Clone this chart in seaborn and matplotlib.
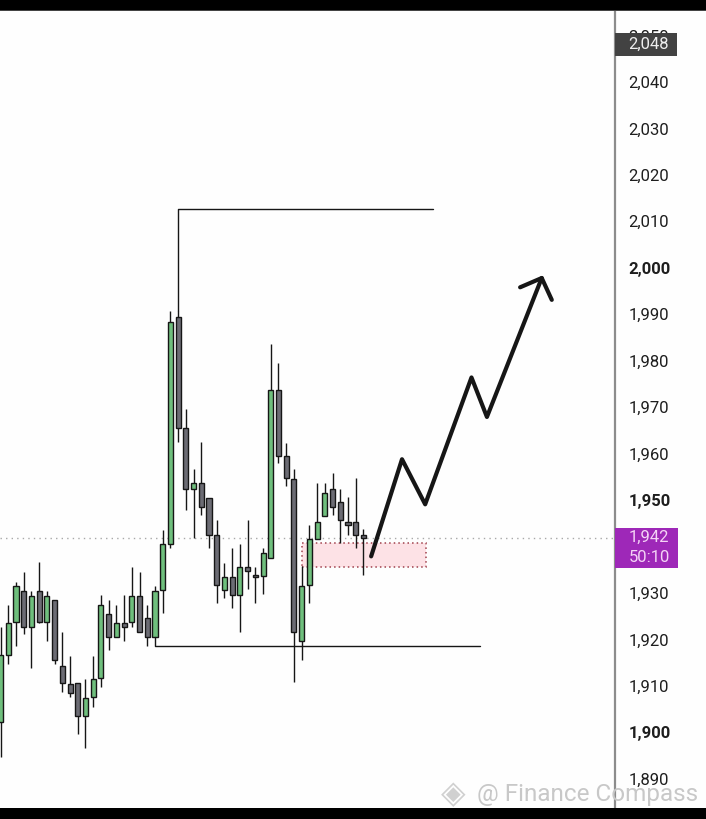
import numpy as np
import pandas as pd
import matplotlib
matplotlib.use("Agg")
import matplotlib.pyplot as plt
import matplotlib.transforms as mtransforms
from matplotlib.patches import Rectangle
import seaborn as sns

sns.set_theme(style="white")
plt.rcParams['font.family'] = ['Roboto', 'DejaVu Sans']

# candle data (bar index, OHLC)
bar_index = list(range(-1, 47))
opens = [1902.2, 1916.6, 1923.7, 1930.4, 1922.7, 1930.4, 1923.7, 1928.5, 1914.3, 1910.4,
         1910.6, 1903.5, 1907.6, 1911.7, 1925.5, 1920.5, 1923.5, 1923.7, 1929.3, 1924.6,
         1920.5, 1930.6, 1940.5, 1989.5, 1965.6, 1952.5, 1953.6, 1950.4, 1942.4, 1930.6,
         1933.4, 1929.5, 1935.6, 1933.6, 1933.6, 1937.5, 1973.6, 1959.6, 1954.5, 1919.6,
         1931.7, 1941.6, 1946.5, 1952.5, 1949.5, 1945.4, 1945.4, 1942.4]
closes = [1916.6, 1923.5, 1931.5, 1922.7, 1929.3, 1923.7, 1929.3, 1915.6, 1910.6, 1908.5,
          1903.5, 1907.4, 1911.5, 1927.4, 1920.5, 1923.5, 1922.7, 1929.3, 1921.6, 1920.5,
          1930.4, 1940.5, 1988.4, 1965.6, 1952.5, 1953.6, 1948.5, 1942.6, 1931.7, 1933.4,
          1929.5, 1935.6, 1934.7, 1933.4, 1938.6, 1973.6, 1959.6, 1954.7, 1921.6, 1931.5,
          1941.6, 1945.4, 1951.5, 1948.5, 1945.7, 1944.6, 1942.6, 1941.8]
highs = [1922.7, 1927.4, 1932.3, 1934.5, 1930.4, 1936.6, 1930.4, 1928.5, 1921.6, 1916.4,
         1910.6, 1911.5, 1916.4, 1929.5, 1928.5, 1927.4, 1929.5, 1935.6, 1934.5, 1927.4,
         1931.5, 1943.5, 1990.6, 1990.6, 1969.7, 1956.6, 1962.6, 1950.4, 1945.7, 1936.4,
         1939.6, 1940.5, 1945.7, 1935.6, 1939.6, 1983.5, 1979.6, 1962.4, 1956.6, 1935.8,
         1944.6, 1953.6, 1953.6, 1955.8, 1952.5, 1950.6, 1954.7, 1943.7]
lows = [1894.7, 1914.7, 1918.6, 1921.2, 1913.8, 1923.5, 1919.6, 1914.7, 1908.7, 1907.6,
        1899.7, 1896.7, 1905.5, 1909.8, 1917.7, 1920.5, 1919.6, 1922.7, 1921.6, 1918.6,
        1920.5, 1925.7, 1939.6, 1962.6, 1947.8, 1941.8, 1946.7, 1939.6, 1927.8, 1928.9,
        1926.7, 1921.6, 1930.8, 1927.8, 1929.7, 1937.5, 1957.9, 1953.0, 1910.8, 1915.6,
        1927.8, 1941.6, 1946.5, 1946.7, 1940.7, 1942.4, 1939.6, 1933.8]

# price axis (1,940 sits under the last-price tag, so it is left out)
tick_prices = [2050, 2040, 2030, 2020, 2010, 2000, 1990, 1980, 1970, 1960,
               1950, 1930, 1920, 1910, 1900, 1890]
tick_labels = ["2,050", "2,040", "2,030", "2,020", "2,010", "2,000", "1,990", "1,980",
               "1,970", "1,960", "1,950", "1,930", "1,920", "1,910", "1,900", "1,890"]
bold_labels = ["2,000", "1,950", "1,900"]
last_price = 1941.8
last_label = "1,942"
countdown = "50:10"
high_marker = 2048
high_label = "2,048"

# drawings
resist_bars = [22, 22, 55]
resist_prices = [1990.6, 2012.7, 2012.7]
support_bars = [19, 19, 61.1]
support_prices = [1920.5, 1918.6, 1918.6]
zone_bars = [38.0, 54.1]
zone_prices = [1935.6, 1940.7]
arrow_bars = [47.0, 51.0, 54.0, 60.0, 62.0, 69.1]
arrow_prices = [1937.9, 1958.8, 1949.1, 1976.4, 1967.9, 1997.8]
head_bars = [66.3, 69.1, 70.4]
head_prices = [1995.8, 1997.8, 1993.1]

df = pd.DataFrame(dict(bar=bar_index, open=opens, high=highs, low=lows, close=closes))
df["up"] = df["close"] >= df["open"]
# doji at bar 32 is drawn dark
df.loc[df["bar"] == 32, "up"] = False

green = "#6fbf7d"
grey = "#6c6c74"
ink = "#161616"

fig = plt.figure(figsize=(7.06, 8.19), dpi=100)
fig.patch.set_facecolor("#fefefe")
ax = fig.add_axes([0, 11 / 819, 615 / 706, 797 / 819])
ax.set_facecolor("#fefefe")

# wicks and bodies
ax.vlines(df["bar"], df["low"], df["high"], color=ink, lw=1.0, zorder=2)
body_low = np.minimum(df["open"], df["close"])
body_h = (df["close"] - df["open"]).abs().clip(lower=0.5)
ax.bar(df["bar"], body_h, bottom=body_low, width=0.66,
       color=[green if u else grey for u in df["up"]],
       edgecolor=ink, linewidth=1.0, zorder=3)

# last price dotted line
ax.axhline(last_price, color="#a8a8a8", ls=(0, (1, 3)), lw=1.0, zorder=1)

# demand zone
ax.add_patch(Rectangle((zone_bars[0], zone_prices[0]), zone_bars[1] - zone_bars[0],
                       zone_prices[1] - zone_prices[0], facecolor="#fde2e6",
                       edgecolor="#a0404c", ls=(0, (1, 2)), lw=1.1, zorder=1.5))

# range lines
sns.lineplot(x=resist_bars, y=resist_prices, sort=False, estimator=None,
             color=ink, lw=1.0, ax=ax, zorder=4)
sns.lineplot(x=support_bars, y=support_prices, sort=False, estimator=None,
             color=ink, lw=1.0, ax=ax, zorder=4)

# projected path arrow
sns.lineplot(x=arrow_bars, y=arrow_prices, sort=False, estimator=None,
             color=ink, lw=3.0, ax=ax, zorder=5)
sns.lineplot(x=head_bars, y=head_prices, sort=False, estimator=None,
             color=ink, lw=3.0, ax=ax, zorder=5)

ax.set_xlim(-1.075, 78.59)
ax.set_ylim(1883.75, 2055.26)
ax.set_xticks([])
ax.yaxis.tick_right()
ax.set_yticks(tick_prices)
ax.set_yticklabels(tick_labels)
ax.tick_params(axis="y", length=0, pad=9.5, labelsize=12, labelcolor="#1e1e1e")
for lab in ax.get_yticklabels():
    if lab.get_text() in bold_labels:
        lab.set_fontweight("bold")
for side in ["top", "left", "bottom"]:
    ax.spines[side].set_visible(False)
ax.spines["right"].set_color("#8c8c8c")
ax.spines["right"].set_linewidth(1.6)

trans = mtransforms.blended_transform_factory(ax.transAxes, ax.transData)
# high marker label
ax.add_patch(Rectangle((1.0, high_marker - 2.47), 62 / 615, 4.94, transform=trans,
                       facecolor="#424242", edgecolor="none", clip_on=False, zorder=6))
ax.text(1 + 13 / 615, high_marker, high_label, transform=trans, ha="left", va="center",
        fontsize=12, color="#eeeeee", zorder=7, clip_on=False)
# last price label
ax.add_patch(Rectangle((1.0, 1935.34), 63 / 615, 8.59, transform=trans,
                       facecolor="#9e28b8", edgecolor="none", clip_on=False, zorder=6))
ax.text(1 + 14 / 615, 1941.9, last_label, transform=trans, ha="left", va="center",
        fontsize=12, color="#f4d4f6", zorder=7, clip_on=False)
ax.text(1 + 14 / 615, 1937.6, countdown, transform=trans, ha="left", va="center",
        fontsize=12, color="#f4d4f6", zorder=7, clip_on=False)

# phone screenshot bars
fig.patches.append(Rectangle((0, 1 - 10 / 819), 1, 10 / 819, transform=fig.transFigure,
                             facecolor="black", edgecolor="none", zorder=10))
fig.patches.append(Rectangle((0, 1 - 11 / 819), 1, 1 / 819, transform=fig.transFigure,
                             facecolor="#444444", edgecolor="none", zorder=10))
fig.patches.append(Rectangle((0, 0), 1, 11 / 819, transform=fig.transFigure,
                             facecolor="black", edgecolor="none", zorder=10))

# watermark
fig.text(441 / 706, 1 - 795 / 819, "◈", family=["DejaVu Sans"], fontsize=23,
         color="#d0d0d0", va="center", ha="left", zorder=11)
fig.text(477 / 706, 1 - 795 / 819, "@ Finance Compass", fontsize=17.5,
         color="#c8c8c8", va="center", ha="left", zorder=11)

fig.savefig("out.png", dpi=100, facecolor=fig.get_facecolor())
